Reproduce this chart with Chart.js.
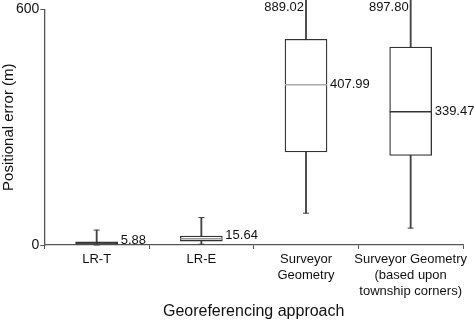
<!DOCTYPE html>
<html>
<head>
<meta charset="utf-8">
<script src="https://cdn.jsdelivr.net/npm/chart.js@4"></script>
<style>
  html, body { margin: 0; padding: 0; background: #fff; }
  #wrap { width: 474px; height: 334px; }
</style>
</head>
<body>
<div id="wrap"><canvas id="box"></canvas></div>
<script>
// box plot values
const categories = ["LR-T", "LR-E", ["Surveyor", "Geometry"], ["Surveyor Geometry", "(based upon", "township corners)"]];
const minValues = [0, 2, 81, 43];
const q1Values = [2, 10, 237, 228];
const medianValues = [5.88, 15.64, 407.99, 339.47];
const q3Values = [8, 23, 524, 504];
const maxValues = [38, 70, 889.02, 897.80];
const medianLabels = ["5.88", "15.64", "407.99", "339.47"];
const maxLabels = ["", "", "889.02", "897.80"];
const yTicks = [0, 600];

const boxFill = ["#666666", "#ffffff", "#ffffff", "#ffffff"];
const medianColor = ["#333333", "#999999", "#aaaaaa", "#333333"];

const whiskers = minValues.map((v, i) => [v, maxValues[i]]);
const boxes = q1Values.map((v, i) => [v, q3Values[i]]);

const font = "'Liberation Sans', Arial, sans-serif";

// medians, whisker caps and value labels
const boxExtras = {
  id: "boxExtras",
  afterDatasetsDraw(chart) {
    const ctx = chart.ctx;
    const x = chart.scales.x;
    const y = chart.scales.y;
    const meta = chart.getDatasetMeta(1);
    ctx.save();
    ctx.font = "13px " + font;
    ctx.fillStyle = "#111";
    for (let i = 0; i < categories.length; i++) {
      const bar = meta.data[i];
      const cx = x.getPixelForValue(i);
      const half = bar.width / 2;
      const my = y.getPixelForValue(medianValues[i]);
      ctx.strokeStyle = medianColor[i];
      ctx.lineWidth = 1.5;
      ctx.beginPath();
      ctx.moveTo(cx - half, my);
      ctx.lineTo(cx + half, my);
      ctx.stroke();

      // caps
      ctx.strokeStyle = "#444";
      ctx.lineWidth = 1;
      ctx.beginPath();
      const lo = y.getPixelForValue(minValues[i]);
      ctx.moveTo(cx - 3, lo);
      ctx.lineTo(cx + 3, lo);
      if (maxValues[i] <= 600) {
        const hi = y.getPixelForValue(maxValues[i]);
        ctx.moveTo(cx - 3, hi);
        ctx.lineTo(cx + 3, hi);
      }
      ctx.stroke();

      ctx.textAlign = "left";
      ctx.textBaseline = "middle";
      let ly = my;
      if (i < 2) ly = y.getPixelForValue(q3Values[i]) - 1;
      ctx.fillText(medianLabels[i], cx + half + 3, ly);

      if (maxLabels[i]) {
        ctx.textAlign = "right";
        ctx.fillText(maxLabels[i], cx - 2, 7);
      }
    }
    ctx.restore();
  }
};

new Chart(document.getElementById("box"), {
  type: "bar",
  plugins: [boxExtras],
  data: {
    labels: categories,
    datasets: [{
      label: "whisker",
      data: whiskers,
      grouped: false,
      barThickness: 1.2,
      backgroundColor: "#444",
      borderWidth: 0,
      clip: false,
      order: 2
    }, {
      label: "box",
      data: boxes,
      grouped: false,
      barThickness: 42,
      backgroundColor: boxFill,
      borderColor: "#333",
      borderWidth: 1.3,
      borderSkipped: false,
      order: 1
    }]
  },
  options: {
    responsive: true,
    maintainAspectRatio: false,
    animation: false,
    layout: { padding: { top: 0, right: 11, left: 0, bottom: 13 } },
    plugins: {
      legend: { display: false },
      tooltip: { enabled: false }
    },
    scales: {
      x: {
        offset: true,
        grid: { display: true, drawOnChartArea: false, offset: true, tickLength: 4, color: "#555" },
        border: { color: "#555", width: 1.3 },
        ticks: { color: "#111", font: { family: font, size: 13 }, maxRotation: 0, autoSkip: false, padding: 3 },
        title: { display: true, text: "Georeferencing approach", color: "#111", font: { family: font, size: 16 }, padding: { top: 0, bottom: 0 } }
      },
      y: {
        min: 0,
        max: 600,
        afterBuildTicks(axis) { axis.ticks = yTicks.map(v => ({ value: v })); },
        grid: { display: true, drawOnChartArea: false, tickLength: 4, color: "#555" },
        border: { color: "#555", width: 1.3 },
        ticks: { color: "#111", font: { family: font, size: 14 }, padding: 1 },
        title: { display: true, text: "Positional error (m)", color: "#111", font: { family: font, size: 15 }, padding: { top: 0, bottom: -3 } }
      }
    }
  }
});
</script>
</body>
</html>
